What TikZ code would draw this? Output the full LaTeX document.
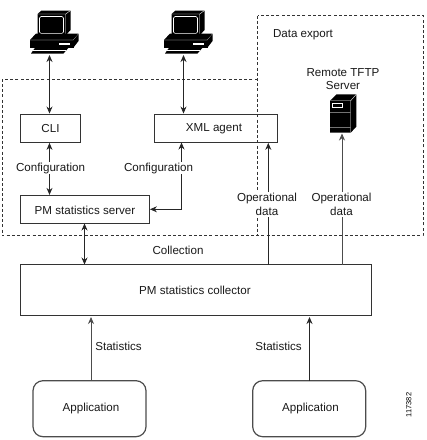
\documentclass[tikz,border=0pt]{standalone}
\usepackage{fontspec}
\setmainfont{Liberation Sans}
\usetikzlibrary{arrows.meta}
\tikzset{
  box/.style={draw=black!80,line width=0.85pt,inner sep=0pt},
  appbox/.style={box,draw=black!70,line width=1.2pt,rounded corners=10pt,minimum width=113pt,minimum height=56pt},
  lbl/.style={font=\fontsize{11.6}{13}\selectfont,inner sep=0pt,align=center,text=black!90},
  lblw/.style={lbl,fill=white,inner sep=1pt},
  dashline/.style={draw=black!80,line width=0.6pt,dash pattern=on 3pt off 2.2pt},
  conn/.style={line width=0.8pt,draw=black!85},
  bi/.style={conn,{Stealth[length=7pt,width=6pt]}-{Stealth[length=7pt,width=6pt]}},
  uni/.style={conn,-{Stealth[length=7pt,width=6pt]}},
  pics/pc/.style={code={
    \fill[black] (37.5,14) -- (41.5,10.5) -- (70.5,10.5) -- (70.5,30) -- (66,35) -- (37.5,35) -- cycle;
    \draw[white,line width=0.35pt] (37.7,14) -- (65.7,14) -- (70.5,10.5) (65.7,14) -- (65.7,34.5);
    \draw[white,line width=0.6pt,rounded corners=1.5pt] (39.5,16.5) rectangle (63.5,33.5);
    \fill[black] (30,40) -- (36,33.5) -- (78.5,33.5) -- (74,40) -- (74,43) -- (30,47.5) -- cycle;
    \fill[black] (30,40) rectangle (74,47.7);
    \draw[white,line width=0.35pt] (30,40) -- (73.5,40) -- (78.5,34);
    \fill[white] (59,43.2) rectangle (70,44.5);
    \fill[black] (73.5,47.5) -- (78.5,41) -- (78.5,34) -- (73.5,40) -- cycle;
    \fill[black] (35,47.8) -- (68.5,47.8) -- (63.5,53.5) -- (31,53.5) -- cycle;
    \draw[white,line width=0.35pt] (33,50.5) -- (65.5,50.5);
  }}
}
\begin{document}
\begin{tikzpicture}[x=1pt,y=-1pt]
\useasboundingbox (0,0) rectangle (427,440);
% dashed regions
\draw[dashline] (257.5,79.5) -- (2,79.5) -- (2,235.3) -- (257.5,235.3);
\draw[dashline] (257.5,15.5) rectangle (423,235.3);
% computers
\pic (pca) at (0,0) {pc};
\pic (pcb) at (134,0) {pc};
\coordinate (pc1) at (49.5,55);
\coordinate (pc2) at (183.5,55);
% server icon
\fill[black] (330,100.7) -- (336.7,94.3) -- (356.3,94.3) -- (356.3,126.7) -- (350.7,132.7) -- (330,132.7) -- cycle;
\draw[white,line width=0.35pt] (330,100.7) -- (350.7,100.7) -- (356.3,94.3) (350.7,100.7) -- (350.7,132.7);
\draw[white,line width=0.5pt] (332.3,103.5) rectangle (342.3,107.3);
\fill[black!55] (330,112.2) rectangle (350.5,113.4);
\fill[black!55] (330,127) rectangle (350.5,128.2);
\coordinate (srv) at (342,133.5);
% boxes
\node[box,minimum width=60pt,minimum height=28.5pt] (cli) at (50.5,128.2) {};
\node[box,minimum width=123pt,minimum height=28.5pt] (xml) at (216,128.2) {};
\node[box,minimum width=129pt,minimum height=28pt] (srvr) at (85,209.3) {};
\node[box,minimum width=350.5pt,minimum height=51pt] (coll) at (195.7,290) {};
\node[appbox] (app1) at (89.5,408.7) {};
\node[appbox] (app2) at (309.2,408.7) {};
% connectors
\draw[bi] (pc1) -- (pc1 |- cli.north);
\draw[bi] (pc2) -- (pc2 |- xml.north);
\draw[bi] (cli.south -| pc1) -- (srvr.north -| pc1);
\coordinate (xa) at (181.5,142.5);
\draw[bi] (xa) -- (181.5,209.3) -- (srvr.east);
\draw[bi] (84.5,223.5) -- (84.5,264.5);
\coordinate (op1) at (268.3,264.5);
\coordinate (op2) at (342,264.5);
\draw[uni] (op1) -- (op1 |- xml.south);
\draw[uni,draw=black!70] (op2) -- (srv);
\coordinate (st1) at (91,380.7);
\coordinate (st2) at (309.5,380.7);
\draw[uni,draw=black!70] (st1) -- (91,317);
\draw[uni] (st2) -- (309.5,317);
% labels
\node[lbl] at (50.5,128.5) {CLI};
\node[lbl] at (214,128.5) {XML agent};
\node[lbl] at (85,210) {PM statistics server};
\node[lbl] at (195,290) {PM statistics collector};
\node[lblw] at (50.5,168) {Configuration};
\node[lblw] at (158.5,168) {Configuration};
\node[lbl] at (178,250) {Collection};
\node[lbl] at (118.5,346) {Statistics};
\node[lbl] at (278.5,346) {Statistics};
\node[lbl] at (91,408) {Application};
\node[lbl] at (310.5,408) {Application};
\node[lblw] at (267,204.5) {Operational\\[1.5pt]data};
\node[lblw] at (341.5,204.5) {Operational\\[1.5pt]data};
\node[lbl] at (303,35) {Data export};
\node[lbl] at (343,79.5) {Remote TFTP\\[0pt]Server};
\node[font=\fontsize{7.5}{9}\selectfont,rotate=90,inner sep=0pt] at (408.7,405) {117382};
\end{tikzpicture}
\end{document}
